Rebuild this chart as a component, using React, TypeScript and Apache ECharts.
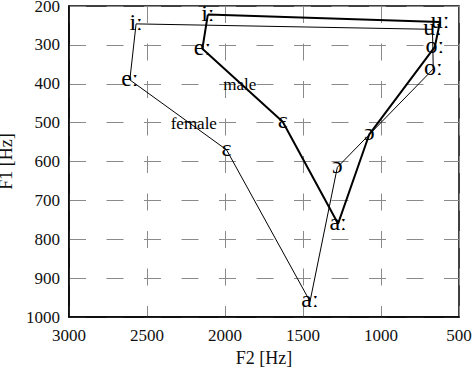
import React, { useEffect, useRef } from "react";
import * as echarts from "echarts";

const vowels = ["iː", "uː", "oː", "ɔ", "aː", "ɛ", "eː"];
const maleF2 = [2110, 622, 655, 1075, 1275, 1630, 2145];
const maleF1 = [222, 241, 305, 530, 760, 498, 310];
const femaleF2 = [2570, 670, 665, 1280, 1455, 1990, 2610];
const femaleF1 = [246, 260, 362, 615, 960, 570, 390];
const groupNames = ["male", "female"];
const groupF2 = [1905, 2200];
const groupF1 = [403, 503];
const xTicks = { min: 500, max: 3000, interval: 500 };
const yTicks = { min: 200, max: 1000, interval: 100 };

const SERIF = "'Liberation Serif', 'DejaVu Serif', serif";
const TEXT = "#111";

function closed(f2: number[], f1: number[]) {
  const pts = f2.map((x, i) => [x, f1[i]]);
  pts.push(pts[0]);
  return pts;
}

export default function App() {
  const ref = useRef<HTMLDivElement>(null);
  useEffect(() => {
    if (!ref.current) return;
    const chart = echarts.init(ref.current, undefined, { renderer: "svg" });
    const axisLabel = {
      fontSize: 17, fontFamily: SERIF, color: TEXT,
      formatter: (v: number) => String(v),
    };
    const split = { show: true, lineStyle: { color: "#8a8a8a", width: 1, type: [17, 20.5] } };
    chart.setOption({
      animation: false,
      grid: {
        left: 69, top: 6, width: 390, height: 311,
        containLabel: false, outerBoundsMode: "none",
        show: true, borderColor: "#000", borderWidth: 1.5, backgroundColor: "transparent",
      },
      xAxis: {
        type: "value", ...xTicks, inverse: true,
        name: "F2 [Hz]", nameLocation: "middle", nameGap: 22,
        nameTextStyle: { fontSize: 18, fontFamily: SERIF, color: TEXT },
        axisLine: { show: true, lineStyle: { color: "#000", width: 1.5 } },
        axisTick: { show: false },
        axisLabel: { ...axisLabel, margin: 10 },
        splitLine: split,
      },
      yAxis: {
        type: "value", ...yTicks, inverse: true,
        name: "F1 [Hz]", nameLocation: "middle", nameGap: 49,
        nameTextStyle: { fontSize: 18, fontFamily: SERIF, color: TEXT },
        axisLine: { show: true, lineStyle: { color: "#000", width: 1.5 } },
        axisTick: { show: false },
        axisLabel: { ...axisLabel, margin: 9 },
        splitLine: split,
      },
      series: [
        {
          type: "line", data: closed(maleF2, maleF1), showSymbol: false,
          lineStyle: { color: "#000", width: 2 }, z: 3,
        },
        {
          type: "line", data: closed(femaleF2, femaleF1), showSymbol: false,
          lineStyle: { color: "#000", width: 1 }, z: 3,
        },
        {
          type: "scatter", symbolSize: 1, itemStyle: { color: "rgba(0,0,0,0)" }, z: 4,
          data: [
            ...vowels.map((v, i) => ({ name: v, value: [maleF2[i], maleF1[i]] })),
            ...vowels.map((v, i) => ({ name: v, value: [femaleF2[i], femaleF1[i]] })),
          ],
          label: {
            show: true, position: "inside", formatter: "{b}", offset: [0, -2],
            fontSize: 24, fontFamily: SERIF, color: "#000", opacity: 1,
          },
        },
        {
          type: "scatter", symbolSize: 1, itemStyle: { color: "rgba(0,0,0,0)" }, z: 4,
          data: groupNames.map((n, i) => ({ name: n, value: [groupF2[i], groupF1[i]] })),
          label: {
            show: true, position: "inside", formatter: "{b}",
            fontSize: 17, fontFamily: SERIF, color: "#000", opacity: 1,
          },
        },
      ],
    });
    return () => chart.dispose();
  }, []);
  return (
    <div
      ref={ref}
      style={{ position: "absolute", left: 0, top: 0, width: 474, height: 369, background: "#fff" }}
    />
  );
}
